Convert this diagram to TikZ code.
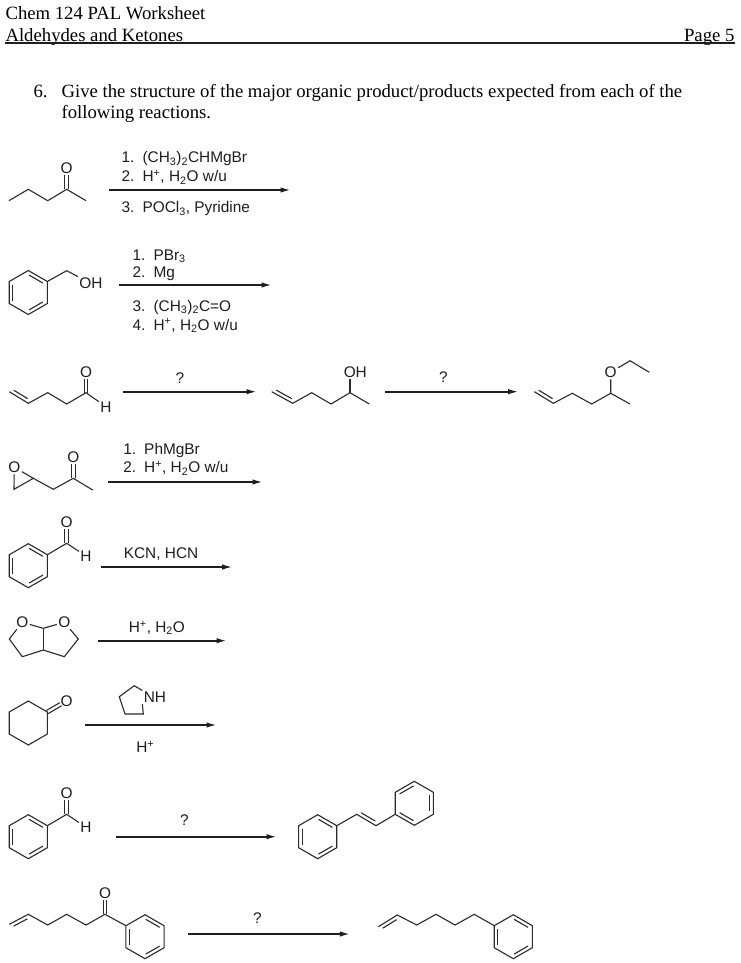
\documentclass[tikz,border=0pt]{standalone}
\usepackage{fontspec}
\setmainfont{Liberation Serif}
\setsansfont{Liberation Sans}
\usepackage{tikz}
\usetikzlibrary{positioning,calc,arrows.meta}
\definecolor{ink}{HTML}{1E1E1E}
\definecolor{bond-line}{HTML}{2A2A2A}
\newcommand{\reagfont}{\fontsize{15.4}{17}\sffamily}
\newcommand{\pagefont}{\fontsize{18.7}{20}\rmfamily}
\newcommand{\stepno}[1]{\makebox[21pt][l]{#1.}}
\newcommand{\sbs}[1]{\textsubscript{#1}}
\newcommand{\sps}[1]{\textsuperscript{#1}}
% two lines side by side, as in C=O
\newcommand{\cobond}[2]{%
\draw[shorten >=7pt] ($(#1)!1.8pt!90:(#2)$) -- ($(#2)!1.8pt!-90:(#1)$);
\draw[shorten >=7pt] ($(#1)!1.8pt!-90:(#2)$) -- ($(#2)!1.8pt!90:(#1)$);}
% second line of a ring or chain double bond, #3 gives the side
\newcommand{\innerbond}[3]{%
\draw[shorten <=3pt,shorten >=3pt] ($(#1)!3.6pt!#3:(#2)$) -- ($(#2)!3.6pt!-#3:(#1)$);}
% phenyl ring: name, centre, first angle of the double bonds
\newcommand{\benzring}[3]{%
\path (#2) +(30:22) coordinate (#1a) +(90:22) coordinate (#1b) +(150:22) coordinate (#1c)
+(210:22) coordinate (#1d) +(270:22) coordinate (#1e) +(330:22) coordinate (#1f);
\draw (#1a)--(#1b)--(#1c)--(#1d)--(#1e)--(#1f)--cycle;
\ifnum#3=30
\innerbond{#1a}{#1b}{-90}\innerbond{#1c}{#1d}{-90}\innerbond{#1e}{#1f}{-90}
\else
\innerbond{#1b}{#1c}{-90}\innerbond{#1d}{#1e}{-90}\innerbond{#1f}{#1a}{-90}
\fi}
\tikzset{
atom/.style={font=\reagfont,inner sep=1pt,text=ink},
reag/.style={font=\reagfont,anchor=base west,inner sep=0pt,text=ink},
qmark/.style={font=\reagfont,inner sep=0pt,text=ink},
head/.style={font=\pagefont,anchor=base west,inner sep=0pt,text=black},
yields/.style={->,line width=1.6pt,draw=ink,shorten >=-1.5pt},
}
\begin{document}
\begin{tikzpicture}[x=1pt,y=-1pt,>={Latex[length=10pt,width=5.5pt]},line width=1.1pt,draw=bond-line,color=bond-line]
\useasboundingbox (0,0) rectangle (740,963);
\fill[white] (0,0) rectangle (740,963);
% header
\path
(5,20) node[head] (title) {Chem 124 PAL Worksheet}
(5,42) node[head] (topic) {Aldehydes and Ketones}
(735,42) node[head,anchor=base east] (page) {Page 5}
(33,97.5) node[head] (qno) {6.}
(61,97.5) node[head] (q1) {Give the structure of the major organic product/products expected from each of the}
(61,118) node[head] (q2) {following reactions.}
(5,43) coordinate (rulea)
(735,43) coordinate (ruleb);
\draw[line width=1.8pt,draw=ink] (rulea)--(ruleb);
% 2-pentanone
\path
(9,200.7) coordinate (a1)
(28.3,189.3) coordinate (a2)
(47.7,200.7) coordinate (a3)
(66.7,189.3) coordinate (a4)
(86,200.7) coordinate (a5)
(66.7,168.3) node[atom] (aO) {O}
(109,190) coordinate (ar1s)
(289,190) coordinate (ar1e);
\draw (a1)--(a2)--(a3)--(a4)--(a5);
\cobond{a4}{aO}
\draw[yields] (ar1s)--(ar1e);
\path
(121,162.7) node[reag] (r1a) {\stepno{1}(CH\sbs{3})\sbs{2}CHMgBr}
(121,181.7) node[reag] (r1b) {\stepno{2}H\sps{+}, H\sbs{2}O w/u}
(121,212.7) node[reag] (r1c) {\stepno{3}POCl\sbs{3}, Pyridine};
% benzyl alcohol
\benzring{b}{28.3,292.5}{30}
\path
(66.7,270.7) coordinate (b1)
(91,283.5) node[atom] (bOH) {OH}
(119,285) coordinate (ar2s)
(270,285) coordinate (ar2e);
\draw (bf)--(b1)--(bOH);
\draw[yields] (ar2s)--(ar2e);
\path
(132,260) node[reag] (r2a) {\stepno{1}PBr\sbs{3}}
(132,277) node[reag] (r2b) {\stepno{2}Mg}
(132,311) node[reag] (r2c) {\stepno{3}(CH\sbs{3})\sbs{2}C=O}
(132,330) node[reag] (r2d) {\stepno{4}H\sps{+}, H\sbs{2}O w/u};
% pentenal to the alcohol to the ether
\path
(9.3,391.7) coordinate (c1)
(28.3,403.3) coordinate (c2)
(47.7,392.7) coordinate (c3)
(66.7,404) coordinate (c4)
(86,392.7) coordinate (c5)
(86,372.3) node[atom] (cO) {O}
(106,406.7) node[atom] (cH) {H}
(123.3,391.7) coordinate (ar3s)
(255,391.7) coordinate (ar3e)
(180,378) node[qmark] (q3a) {?}
(271.7,391.7) coordinate (d1)
(292.7,403.3) coordinate (d2)
(311.7,392.7) coordinate (d3)
(331,404) coordinate (d4)
(350,392.7) coordinate (d5)
(369.3,404) coordinate (d6)
(355.3,372.3) node[atom] (dOH) {OH}
(385,391.7) coordinate (ar4s)
(516.7,391.7) coordinate (ar4e)
(443.3,377) node[qmark] (q3b) {?}
(534.3,391.7) coordinate (e1)
(553.3,403.3) coordinate (e2)
(572.3,393.3) coordinate (e3)
(591.7,404) coordinate (e4)
(610.7,393.3) coordinate (e5)
(630,404) coordinate (e6)
(610.7,372.3) node[atom] (eO) {O}
(630,360.7) coordinate (e7)
(649.3,372.3) coordinate (e8);
\draw (c1)--(c2)--(c3)--(c4)--(c5)--(cH);
\innerbond{c1}{c2}{90}
\cobond{c5}{cO}
\draw[yields] (ar3s)--(ar3e);
\draw (d1)--(d2)--(d3)--(d4)--(d5)--(d6);
\innerbond{d1}{d2}{90}
\draw (d5)--(dOH.south -| d5);
\draw[yields] (ar4s)--(ar4e);
\draw (e1)--(e2)--(e3)--(e4)--(e5)--(e6);
\innerbond{e1}{e2}{90}
\draw (e5)--(eO)--(e7)--(e8);
% epoxy ketone
\path
(14.3,467.3) node[atom] (fOx) {O}
(14,489.3) coordinate (f1)
(33.3,478.3) coordinate (f2)
(53.3,489.3) coordinate (f3)
(73.3,478.3) coordinate (f4)
(92.7,490) coordinate (f5)
(73.3,456.7) node[atom] (fO) {O}
(107.7,482) coordinate (ar5s)
(261,482) coordinate (ar5e);
\draw (fOx)--(f1)--(f2)--(fOx);
\draw (f2)--(f3)--(f4)--(f5);
\cobond{f4}{fO}
\draw[yields] (ar5s)--(ar5e);
\path
(122.7,454) node[reag] (r5a) {\stepno{1}PhMgBr}
(122.7,472.7) node[reag] (r5b) {\stepno{2}H\sps{+}, H\sbs{2}O w/u};
% benzaldehyde
\benzring{g}{28.3,565.7}{30}
\path
(66.7,543.3) coordinate (g1)
(66.7,522.3) node[atom] (gO) {O}
(86,556) node[atom] (gH) {H}
(101,567) coordinate (ar6s)
(230.7,567) coordinate (ar6e);
\draw (gf)--(g1)--(gH);
\cobond{g1}{gO}
\draw[yields] (ar6s)--(ar6e);
\path (123.3,558.3) node[reag] (r6a) {KCN, HCN};
% bicyclic acetal
\path
(22.3,622.3) node[atom] (hOa) {O}
(64.3,622.3) node[atom] (hOb) {O}
(43.3,628.3) coordinate (h1)
(43.3,650) coordinate (h2)
(9.3,639) coordinate (h3)
(22.3,656.7) coordinate (h4)
(78.3,639) coordinate (h5)
(64.3,656.7) coordinate (h6)
(98,640.7) coordinate (ar7s)
(225,640.7) coordinate (ar7e);
\draw (hOa)--(h1)--(hOb);
\draw (h1)--(h2);
\draw (hOa)--(h3)--(h4)--(h2)--(h6)--(h5)--(hOb);
\draw[yields] (ar7s)--(ar7e);
\path (128.3,632.3) node[reag] (r7a) {H\sps{+}, H\sbs{2}O};
% cyclohexanone and pyrrolidine
\path
(28.3,723) +(30:22) coordinate (k1) +(90:22) coordinate (k2) +(150:22) coordinate (k3)
+(210:22) coordinate (k4) +(270:22) coordinate (k5) +(330:22) coordinate (k6)
(66.7,700.7) node[atom] (kO) {O}
(134.3,685.7) coordinate (n1)
(119.3,696.7) coordinate (n2)
(125,714) coordinate (n3)
(143.3,714) coordinate (n4)
(155,697.3) node[atom] (nNH) {NH}
(85,725) coordinate (ar8s)
(215,725) coordinate (ar8e);
\draw (k1)--(k2)--(k3)--(k4)--(k5)--(k6)--cycle;
\cobond{k6}{kO}
\draw (nNH.north west)--(n1)--(n2)--(n3)--(n4)--(nNH.south west);
\draw[yields] (ar8s)--(ar8e);
\path (135.7,752.3) node[reag] (r8a) {H\sps{+}};
% benzaldehyde to stilbene
\benzring{m}{28.3,836.7}{30}
\path
(66.7,814.3) coordinate (m1)
(66.7,792.7) node[atom] (mO) {O}
(86,827.3) node[atom] (mH) {H}
(115.7,836.7) coordinate (ar9s)
(275,836.7) coordinate (ar9e)
(184.3,820) node[qmark] (q9) {?};
\draw (mf)--(m1)--(mH);
\cobond{m1}{mO}
\draw[yields] (ar9s)--(ar9e);
\benzring{s}{317.7,836.7}{30}
\benzring{t}{414.3,803.3}{90}
\path
(356.7,814.3) coordinate (s1)
(376,825.7) coordinate (s2);
\draw (sf)--(s1)--(s2)--(tc);
\innerbond{s1}{s2}{90}
% phenyl ketone to the hydrocarbon
\benzring{u}{145,936.7}{30}
\path
(9.3,924.3) coordinate (v1)
(28.3,914.3) coordinate (v2)
(47.7,925) coordinate (v3)
(66.7,914.3) coordinate (v4)
(86,925) coordinate (v5)
(105,914.3) coordinate (v6)
(105,893.3) node[atom] (vO) {O}
(188.3,934) coordinate (ar10s)
(348.3,934) coordinate (ar10e)
(257.3,917.7) node[qmark] (q10) {?};
\draw (v1)--(v2)--(v3)--(v4)--(v5)--(v6)--(ud);
\innerbond{v2}{v1}{90}
\cobond{v6}{vO}
\draw[yields] (ar10s)--(ar10e);
\benzring{w}{513.3,936.7}{30}
\path
(378.3,926.7) coordinate (x1)
(397.3,915) coordinate (x2)
(416.7,925) coordinate (x3)
(436,914.3) coordinate (x4)
(455,925) coordinate (x5)
(474.3,914.3) coordinate (x6);
\draw (x1)--(x2)--(x3)--(x4)--(x5)--(x6)--(wd);
\innerbond{x2}{x1}{90}
\end{tikzpicture}
\end{document}
